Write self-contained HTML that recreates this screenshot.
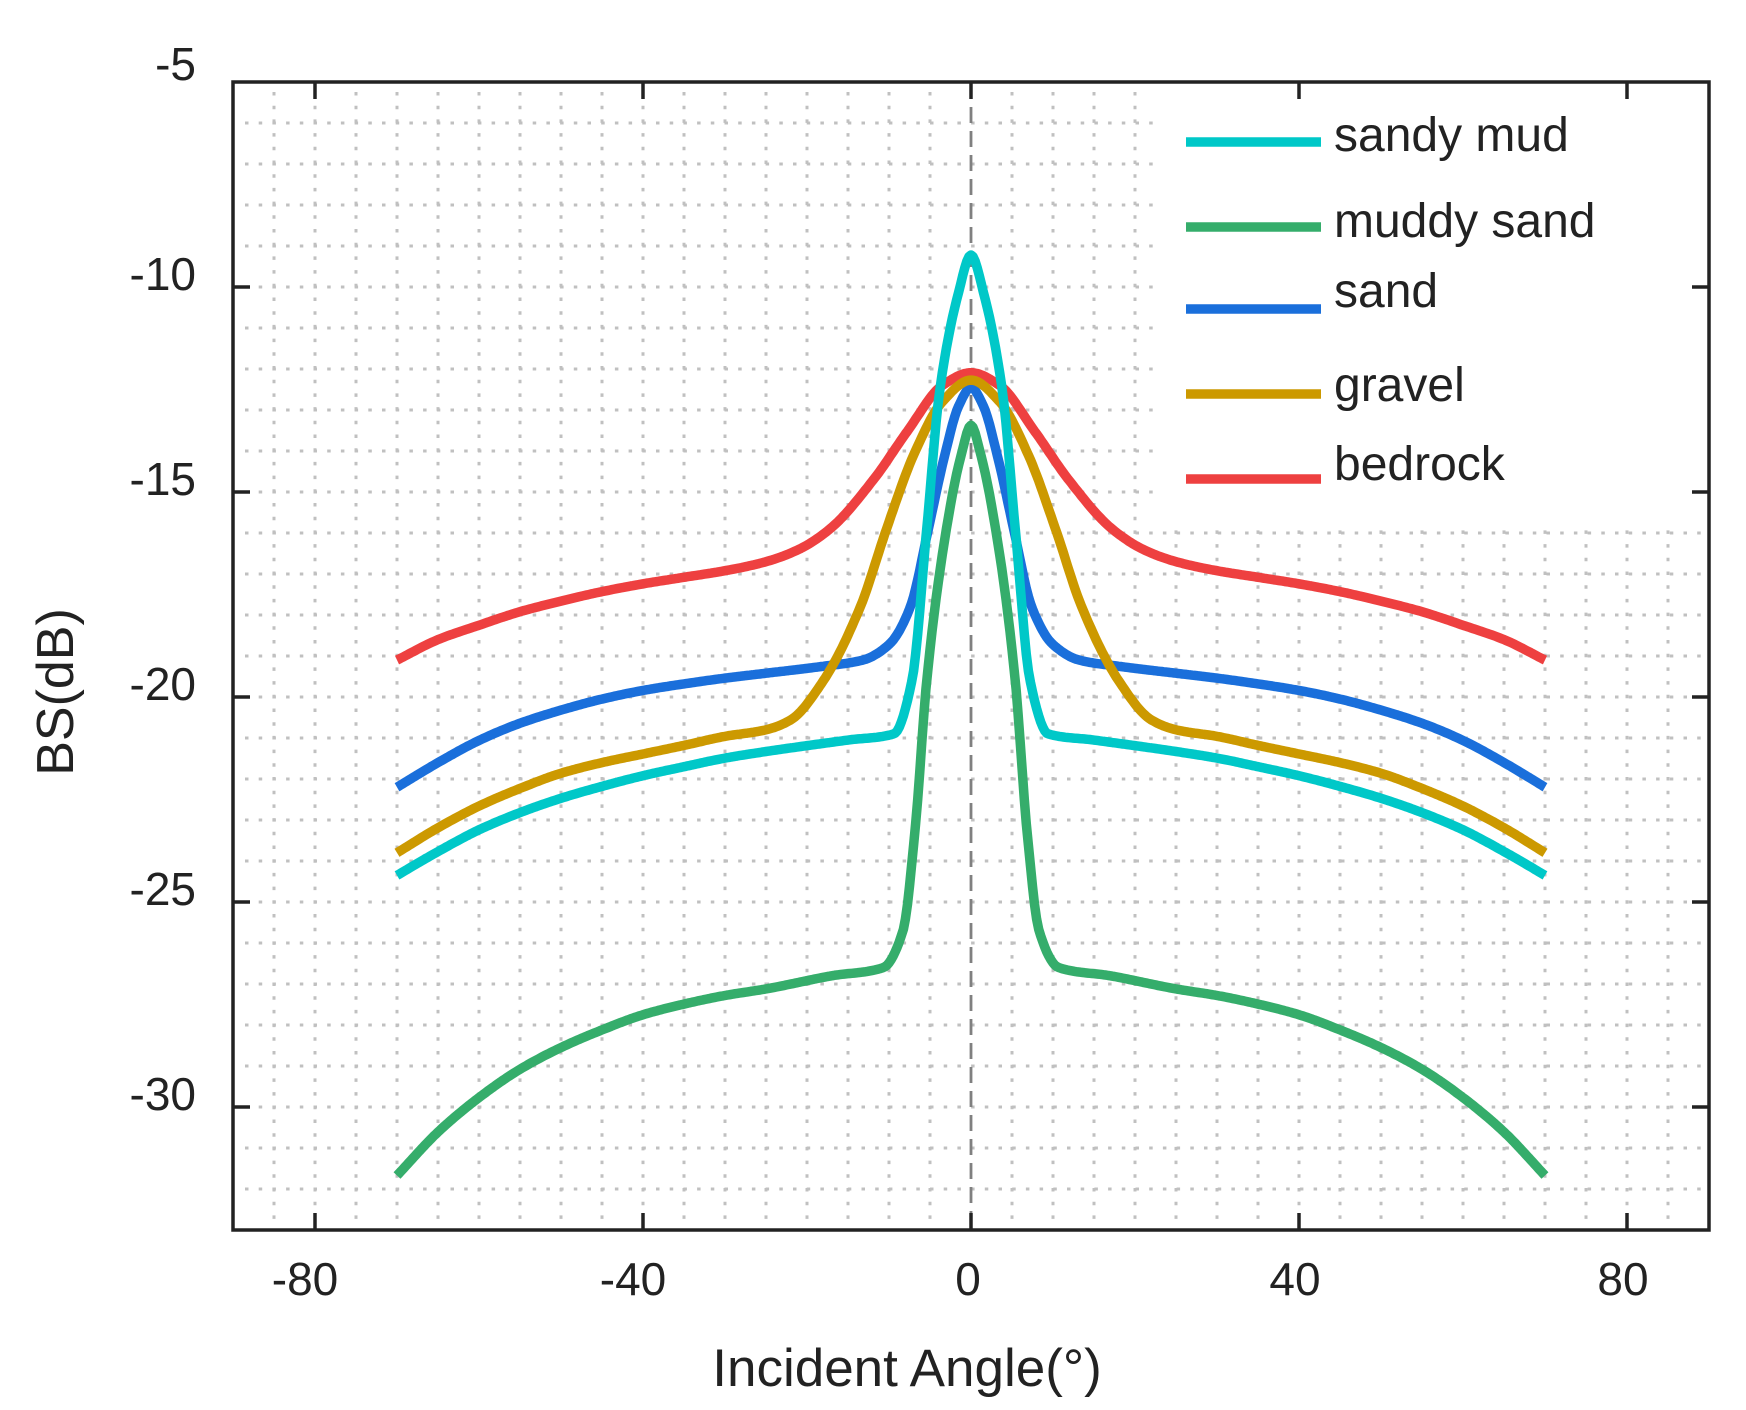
<!DOCTYPE html>
<html><head><meta charset="utf-8"><style>
html,body{margin:0;padding:0;background:#fff;}
svg{display:block;font-family:"Liberation Sans",Arial,sans-serif;}
</style></head><body>
<svg id="s" width="1746" height="1410" viewBox="0 0 1746 1410" xmlns="http://www.w3.org/2000/svg">
<rect width="1746" height="1410" fill="#fff"/>
<g id="grid" stroke="#c0c0c0" stroke-width="3" stroke-dasharray="3.5,10.2"></g>
<rect x="1161" y="84" width="546" height="446" fill="#fff"/>
<line x1="971" y1="83" x2="971" y2="1229" stroke="#808080" stroke-width="2.8" stroke-dasharray="16,8"/>
<g id="curves" fill="none" stroke-width="9.5" stroke-linejoin="round" stroke-linecap="butt"></g>
<g id="ticks" stroke="#222" stroke-width="3.5"></g>
<rect x="233" y="82" width="1476" height="1148" fill="none" stroke="#222" stroke-width="3.5"/>
<g font-size="46" fill="#222" text-anchor="end">
<text x="196" y="80">-5</text>
<text x="196" y="290">-10</text>
<text x="196" y="495">-15</text>
<text x="196" y="700">-20</text>
<text x="196" y="905">-25</text>
<text x="196" y="1110">-30</text>
</g>
<g font-size="46" fill="#222" text-anchor="middle">
<text x="305" y="1295">-80</text>
<text x="633" y="1295">-40</text>
<text x="968" y="1295">0</text>
<text x="1295" y="1295">40</text>
<text x="1623" y="1295">80</text>
</g>
<text x="907" y="1386" font-size="53" fill="#222" text-anchor="middle">Incident Angle(°)</text>
<text transform="translate(73,692) rotate(-90)" font-size="52" fill="#222" text-anchor="middle">BS(dB)</text>
<g stroke-width="9.5">
<line x1="1186" y1="142" x2="1321" y2="142" stroke="#00c8c8"/>
<line x1="1186" y1="227" x2="1321" y2="227" stroke="#35ad6b"/>
<line x1="1186" y1="309" x2="1321" y2="309" stroke="#1a6fdb"/>
<line x1="1186" y1="394" x2="1321" y2="394" stroke="#cc9900"/>
<line x1="1186" y1="479" x2="1321" y2="479" stroke="#ee4040"/>
</g>
<g font-size="48" fill="#222">
<text x="1334" y="151">sandy mud</text>
<text x="1334" y="237">muddy sand</text>
<text x="1334" y="307">sand</text>
<text x="1334" y="401">gravel</text>
<text x="1334" y="480">bedrock</text>
</g>
</svg>
<script>
(function(){
var NS="http://www.w3.org/2000/svg";
function X(t){return 971+t*8.2;}
function Y(d){return 82+(-5-d)*41;}
var g=document.getElementById('grid'),tk=document.getElementById('ticks'),cv=document.getElementById('curves');
function ln(p,a,b,c,d){var l=document.createElementNS(NS,'line');l.setAttribute('x1',a);l.setAttribute('y1',b);l.setAttribute('x2',c);l.setAttribute('y2',d);p.appendChild(l);return l;}
for(var t=-85;t<=85;t+=5){if(t===0)continue;var x=X(t);ln(g,x,92,x,1228);}
for(var d=-6;d>=-32;d--){var y=Y(d);ln(g,245,y,1707,y);}
[-80,-40,0,40,80].forEach(function(t){var x=X(t);ln(tk,x,1230,x,1213);ln(tk,x,82,x,99);});
[-10,-15,-20,-25,-30].forEach(function(d){var y=Y(d);ln(tk,233,y,250,y);ln(tk,1709,y,1692,y);});
var outer=[-70,-65,-60,-55,-50,-45,-40,-35,-30,-25];
var S=[
 {c:"#ee4040",o:[-19.1,-18.6,-18.25,-17.92,-17.66,-17.43,-17.24,-17.08,-16.92,-16.7],i:[[-21,-16.4],[-17.2,-15.9],[-11.9,-14.7],[-7.7,-13.5],[-3.5,-12.4],[0,-12.09]]},
 {c:"#1a6fdb",o:[-22.2,-21.6,-21.06,-20.64,-20.32,-20.05,-19.84,-19.68,-19.54,-19.42],i:[[-18,-19.25],[-13.2,-19.1],[-9.9,-18.7],[-7.4,-17.8],[-5.2,-15.9],[-3.2,-14.1],[-1.5,-12.9],[0,-12.45]]},
 {c:"#cc9900",o:[-23.8,-23.19,-22.66,-22.23,-21.86,-21.6,-21.39,-21.18,-20.96,-20.8],i:[[-22,-20.56],[-18,-19.6],[-13.5,-17.8],[-10.3,-15.9],[-7,-14.1],[-3.5,-12.8],[0,-12.27]]},
 {c:"#00c8c8",o:[-24.35,-23.77,-23.24,-22.82,-22.47,-22.18,-21.92,-21.7,-21.49,-21.33],i:[[-15,-21.05],[-9.4,-20.9],[-7.2,-19.6],[-5.4,-15.9],[-3.8,-12.5],[-1.6,-10.2],[0,-9.22]]},
 {c:"#35ad6b",o:[-31.67,-30.61,-29.77,-29.08,-28.55,-28.12,-27.75,-27.49,-27.28,-27.12],i:[[-17,-26.8],[-10.7,-26.6],[-8.3,-25.7],[-6.8,-23.2],[-5.4,-19.6],[-3.0,-15.9],[-1.2,-14.1],[0,-13.37]]}
];
function mono(xs,ys){var n=xs.length,dl=[],m=[];for(var k=0;k<n-1;k++)dl.push((ys[k+1]-ys[k])/(xs[k+1]-xs[k]));m[0]=dl[0];m[n-1]=dl[n-2];
for(k=1;k<n-1;k++){if(dl[k-1]*dl[k]<=0)m[k]=0;else{var w1=2*(xs[k+1]-xs[k])+(xs[k]-xs[k-1]),w2=(xs[k+1]-xs[k])+2*(xs[k]-xs[k-1]);m[k]=(w1+w2)/(w1/dl[k-1]+w2/dl[k]);}}
return function(x){var k=0;while(k<n-2&&x>xs[k+1])k++;var h=xs[k+1]-xs[k],t=(x-xs[k])/h,t2=t*t,t3=t2*t;
return (2*t3-3*t2+1)*ys[k]+(t3-2*t2+t)*h*m[k]+(-2*t3+3*t2)*ys[k+1]+(t3-t2)*h*m[k+1];};}
S.forEach(function(s){var pts=[];outer.forEach(function(t,k){pts.push([t,s.o[k]]);});s.i.forEach(function(p){pts.push(p);});
var half=pts.slice();for(var k=half.length-2;k>=0;k--)pts.push([-half[k][0],half[k][1]]);
var xs=pts.map(function(p){return p[0];}),ys=pts.map(function(p){return p[1];});var f=mono(xs,ys);
var dd="";for(var t=-70;t<=70.001;t+=0.25){dd+=(dd?"L":"M")+X(t).toFixed(1)+","+Y(f(t)).toFixed(1);}
var p=document.createElementNS(NS,'path');p.setAttribute('d',dd);p.setAttribute('stroke',s.c);cv.appendChild(p);});
})();
</script>
</body></html>
